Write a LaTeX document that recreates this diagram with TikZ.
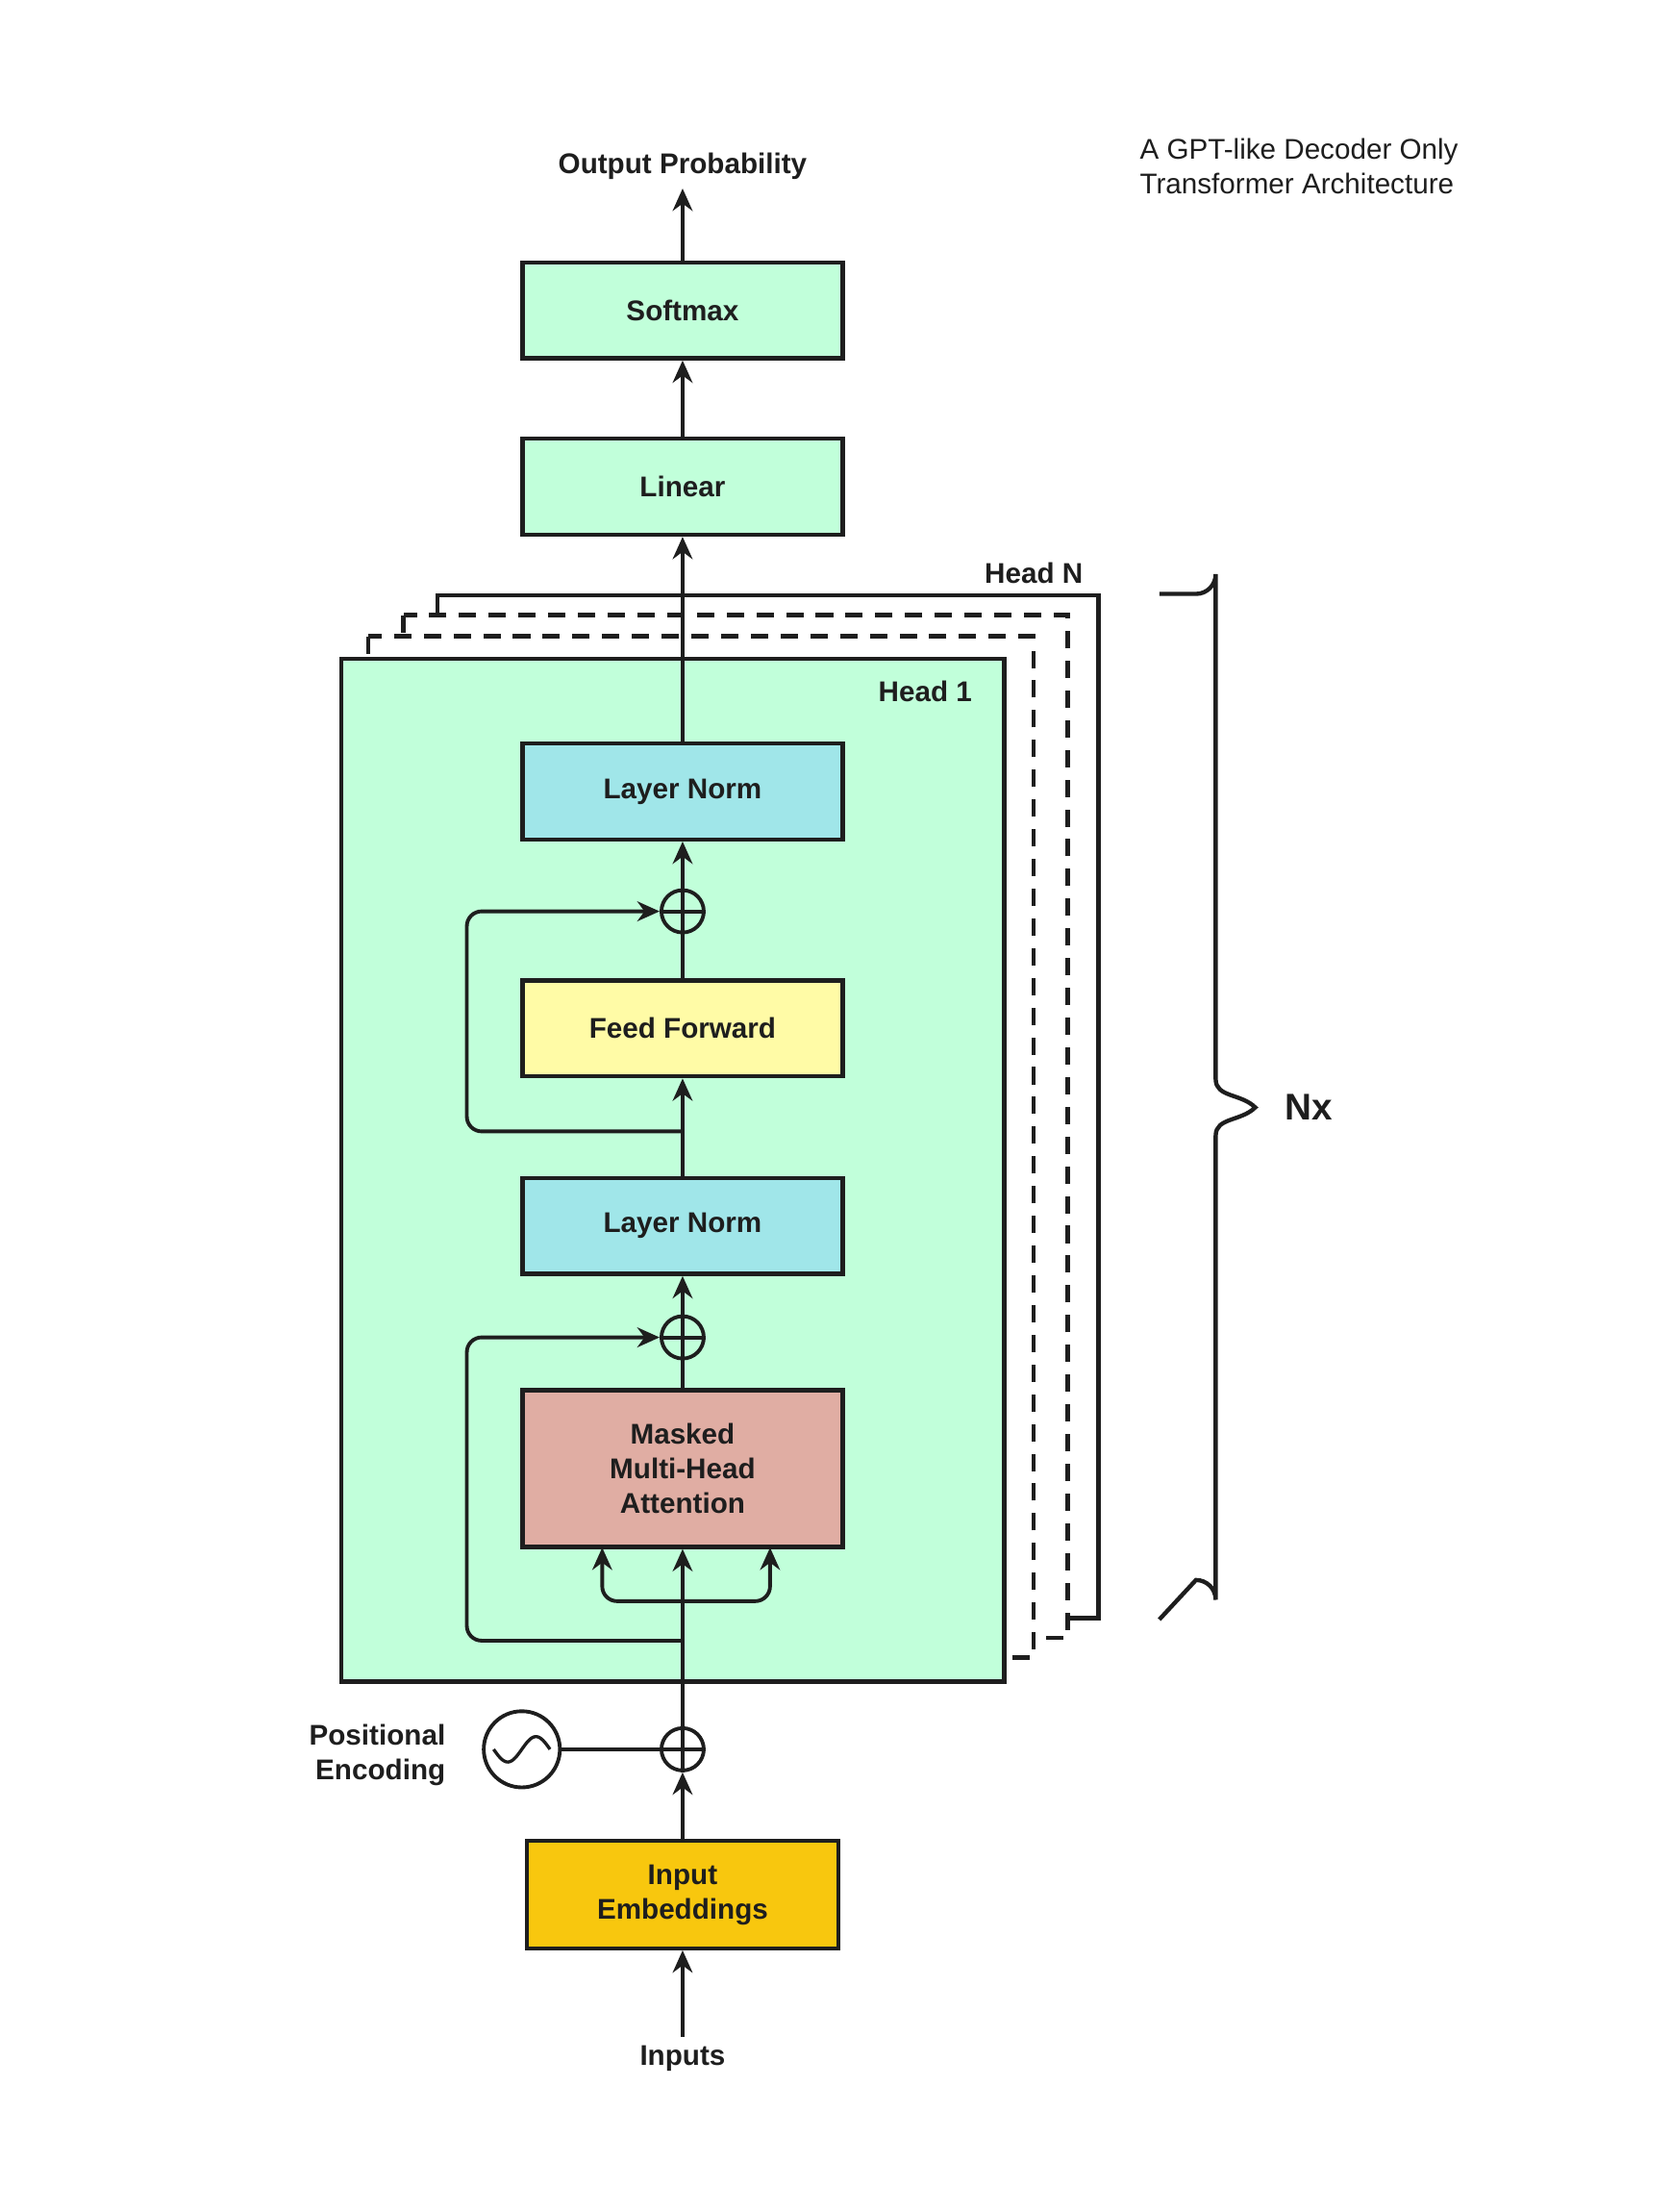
\documentclass[tikz,border=0pt]{standalone}
\usepackage{fontspec}
\setmainfont{Liberation Sans}
\usetikzlibrary{arrows.meta}
\definecolor{mint}{HTML}{C1FFDA}
\definecolor{lnorm}{HTML}{A0E6E9}
\definecolor{ff}{HTML}{FFFBA6}
\definecolor{mha}{HTML}{E0ADA3}
\definecolor{emb}{HTML}{F8C70E}
\definecolor{ink}{HTML}{1E1E1E}
\begin{document}
\begin{tikzpicture}[x=0.02cm,y=-0.02cm,
  box/.style={draw=ink,line width=1.7pt,minimum width=4.54cm,minimum height=1.36cm,align=center,font=\fontsize{11.5}{14}\selectfont\bfseries,text=ink},
  lbl/.style={font=\fontsize{11.5}{14}\selectfont\bfseries,text=ink,align=center},
  arr/.style={draw=ink,line width=1.5pt,-{Stealth[length=9pt,width=8pt]}},
  ln/.style={draw=ink,line width=1.5pt},
  plus/.style={circle,draw=ink,line width=1.5pt,minimum size=0.6cm,inner sep=0pt}]
\useasboundingbox (0,0) rectangle (1185,1568);
% head stack
\draw[ink,line width=1.7pt,fill=white] (310,422) rectangle (779,1147);
\draw[ink,line width=1.7pt,dash pattern=on 7pt off 5pt,fill=white] (286,436) rectangle (757,1161);
\draw[ink,line width=1.7pt,dash pattern=on 7pt off 5pt,fill=white] (261,451) rectangle (733,1175);
\draw[ink,line width=1.7pt,fill=mint] (242,467) rectangle (712,1192);
\node[lbl] (hn) at (733,406) {Head N};
\node[lbl] (h1) at (656,490) {Head 1};
% nodes
\node[box,fill=mint] (soft) at (484,220) {Softmax};
\node[box,fill=mint] (lin) at (484,345) {Linear};
\node[lbl] (out) at (484,118) {Output Probability};
\node[box,fill=lnorm] (ln1) at (484,561) {Layer Norm};
\node[plus] (p1) at (484,646) {};
\node[box,fill=ff] (ffn) at (484,729) {Feed Forward};
\node[box,fill=lnorm] (ln2) at (484,869) {Layer Norm};
\node[plus] (p2) at (484,948) {};
\node[box,fill=mha,minimum height=2.22cm] (att) at (484,1041) {Masked\\Multi-Head\\Attention};
\node[plus] (p3) at (484,1240) {};
\node[circle,draw=ink,line width=1.5pt,minimum size=1.08cm,inner sep=0pt] (pe) at (370,1240) {};
\draw[ink,line width=1.3pt] plot[domain=-20:20,samples=40,smooth] ({370+\x},{1240-9*sin(\x*9)});
\node[lbl,align=right,anchor=east] (pet) at (322,1244) {Positional\\Encoding};
\node[box,fill=emb,minimum width=4.42cm,minimum height=1.52cm] (emb) at (484,1343) {Input\\Embeddings};
\node[lbl] (inp) at (484,1459) {Inputs};
\node[lbl,anchor=west,font=\fontsize{11.5}{14}\selectfont,align=left] (title) at (802,118) {A GPT-like Decoder Only\\Transformer Architecture};
% plus crosses
\foreach \p in {p1,p2,p3}{\draw[ln] (\p.north)--(\p.south) (\p.west)--(\p.east);}
% connectors
\draw[arr] (inp.north) -- (emb.south);
\draw[arr] (emb.north) -- (p3.south);
\draw[ln] (pe.east) -- (p3.west);
\coordinate (c1) at (484,1163);
\coordinate (c2) at (484,1135);
\draw[arr] (p3.north) -- (att.south);
\draw[arr,rounded corners=6pt] (c2) -| (427,1097);
\draw[arr,rounded corners=6pt] (c2) -| (546,1097);
\draw[arr,rounded corners=6pt] (c1) -| (331,948) -- (p2.west);
\draw[ln] (att.north) -- (p2.south);
\draw[arr] (p2.north) -- (ln2.south);
\draw[arr] (ln2.north) -- (ffn.south);
\coordinate (c3) at (484,802);
\draw[arr,rounded corners=6pt] (c3) -| (331,646) -- (p1.west);
\draw[ln] (ffn.north) -- (p1.south);
\draw[arr] (p1.north) -- (ln1.south);
\draw[arr] (ln1.north) -- (lin.south);
\draw[arr] (lin.north) -- (soft.south);
\draw[arr] (soft.north) -- (out.south);
% brace
\draw[ink,line width=1.7pt] (822,421) -- (848,421) arc[start angle=90,end angle=0,radius=14] -- (862,765) .. controls (862,778) and (880,775) .. (890,785) .. controls (880,795) and (862,792) .. (862,805) -- (862,1134) arc[start angle=0,end angle=-90,radius=14] -- (822,1148);
\node[lbl,font=\fontsize{15}{18}\selectfont\bfseries] (nx) at (928,785) {Nx};
\end{tikzpicture}
\end{document}
